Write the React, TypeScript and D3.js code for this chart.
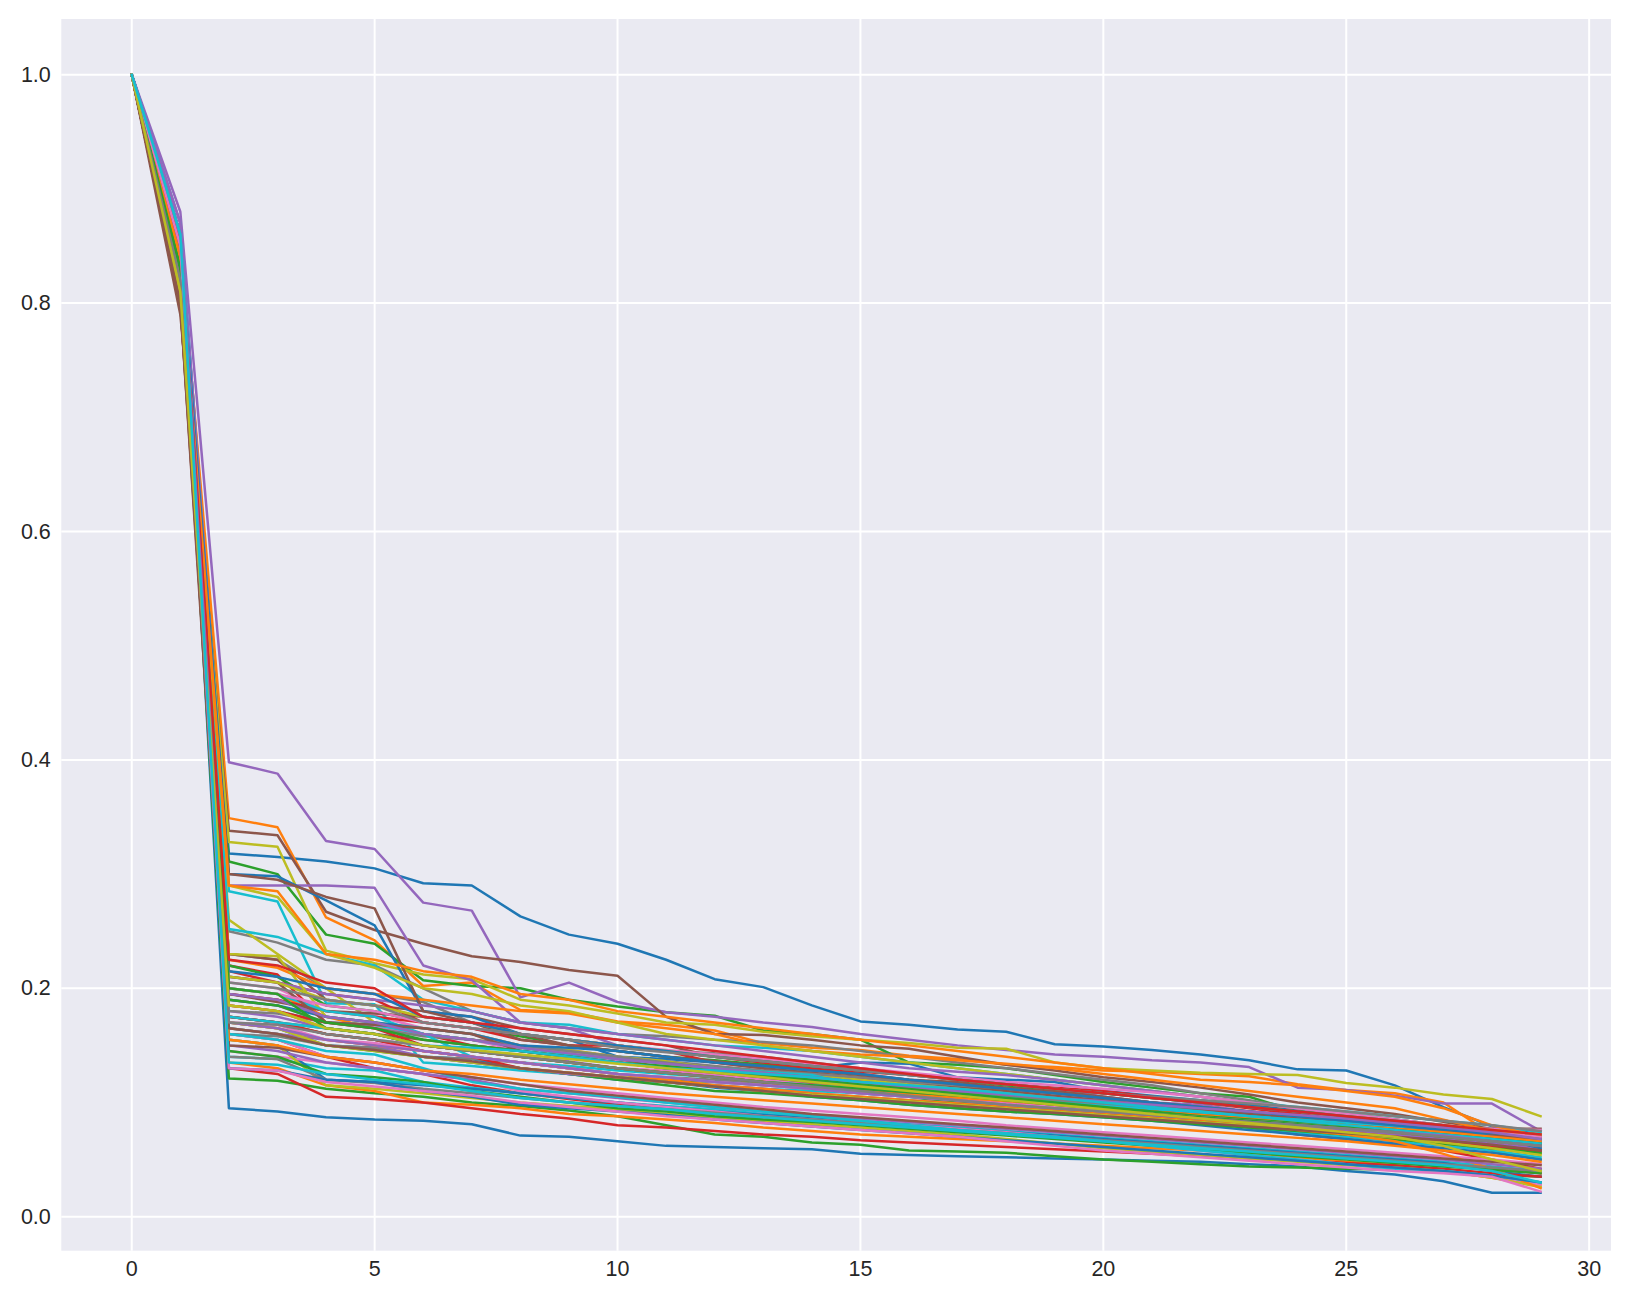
import * as d3 from 'd3';
import { useEffect, useRef } from 'react';

// steps along the x axis (0..29)
const steps = d3.range(30);

// one array per run, 30 values each
const runs: number[][] = [
  [1, .86, .318, .315, .311, .305, .292, .290, .263, .247, .239, .225, .208, .201, .185, .171, .168, .164, .162, .151, .149, .146, .142, .137, .129, .128, .115, .096, .079, .072],
  [1, .85, .349, .341, .262, .242, .202, .205, .181, .179, .171, .168, .163, .152, .148, .146, .141, .138, .133, .131, .128, .127, .125, .123, .116, .111, .108, .100, .072, .060],
  [1, .84, .311, .300, .247, .239, .207, .202, .200, .190, .184, .179, .176, .163, .160, .155, .135, .133, .130, .124, .118, .113, .108, .105, .092, .088, .078, .070, .058, .050],
  [1, .83, .220, .212, .170, .168, .160, .150, .145, .140, .138, .130, .128, .120, .116, .112, .110, .105, .100, .097, .092, .088, .085, .078, .072, .068, .063, .058, .050, .042],
  [1, .88, .398, .388, .329, .322, .275, .268, .192, .205, .188, .179, .175, .170, .166, .160, .155, .150, .146, .142, .140, .137, .135, .131, .113, .111, .106, .099, .099, .075],
  [1, .79, .338, .334, .267, .251, .239, .228, .223, .216, .211, .175, .160, .159, .155, .150, .147, .140, .133, .128, .122, .118, .113, .107, .100, .095, .090, .083, .077, .077],
  [1, .85, .205, .200, .180, .176, .165, .160, .150, .146, .140, .136, .130, .127, .124, .120, .115, .111, .108, .105, .100, .097, .094, .090, .087, .083, .080, .077, .077, .076],
  [1, .82, .230, .225, .200, .195, .188, .170, .160, .155, .150, .145, .143, .140, .135, .130, .125, .120, .115, .110, .105, .100, .095, .090, .085, .080, .075, .070, .065, .060],
  [1, .81, .328, .324, .233, .222, .212, .208, .190, .185, .178, .170, .168, .162, .158, .155, .152, .148, .147, .135, .130, .128, .126, .125, .124, .117, .113, .107, .103, .088],
  [1, .87, .285, .276, .187, .186, .135, .132, .128, .125, .122, .118, .115, .112, .110, .108, .105, .100, .098, .095, .090, .086, .083, .078, .074, .070, .066, .062, .058, .052],

  [1, .85, .095, .092, .087, .085, .084, .081, .071, .070, .066, .062, .061, .060, .059, .055, .054, .053, .052, .051, .050, .049, .048, .046, .044, .040, .037, .031, .021, .021],
  [1, .84, .200, .195, .175, .165, .160, .155, .148, .143, .135, .130, .128, .125, .120, .115, .110, .107, .103, .100, .096, .092, .088, .085, .080, .075, .070, .065, .060, .056],
  [1, .83, .121, .119, .112, .108, .105, .100, .097, .093, .088, .080, .072, .070, .065, .063, .058, .057, .056, .053, .050, .048, .046, .044, .043, .042, .041, .039, .037, .035],
  [1, .86, .160, .155, .140, .130, .125, .115, .108, .103, .098, .094, .090, .087, .084, .081, .078, .075, .072, .069, .066, .063, .060, .057, .054, .051, .048, .045, .042, .038],
  [1, .87, .290, .290, .290, .288, .220, .207, .170, .165, .150, .145, .140, .135, .130, .128, .125, .120, .115, .112, .105, .100, .098, .092, .088, .085, .080, .075, .070, .065],
  [1, .80, .230, .225, .190, .185, .180, .175, .165, .160, .155, .150, .140, .138, .130, .125, .120, .118, .113, .110, .105, .100, .095, .090, .086, .082, .078, .074, .070, .066],
  [1, .84, .190, .185, .170, .166, .160, .155, .145, .140, .136, .130, .127, .122, .118, .113, .110, .106, .102, .098, .095, .090, .086, .082, .078, .074, .070, .066, .060, .055],
  [1, .82, .250, .240, .225, .220, .200, .180, .170, .165, .160, .158, .155, .153, .150, .145, .140, .135, .130, .125, .120, .115, .108, .102, .095, .090, .085, .080, .070, .065],
  [1, .81, .260, .230, .200, .170, .160, .155, .150, .145, .140, .135, .130, .127, .124, .120, .116, .112, .108, .104, .100, .096, .092, .088, .084, .080, .075, .070, .062, .055],
  [1, .86, .252, .245, .230, .220, .190, .180, .170, .168, .160, .155, .150, .148, .145, .140, .135, .130, .125, .120, .115, .110, .105, .100, .096, .092, .088, .084, .080, .074],

  [1, .85, .300, .298, .277, .255, .180, .175, .160, .155, .140, .138, .135, .133, .130, .135, .134, .122, .120, .118, .110, .106, .102, .098, .093, .088, .083, .078, .067, .060],
  [1, .84, .225, .218, .200, .195, .190, .185, .180, .178, .170, .165, .160, .150, .145, .142, .140, .137, .134, .130, .125, .120, .115, .110, .105, .100, .095, .085, .075, .065],
  [1, .83, .220, .210, .185, .180, .170, .165, .158, .150, .145, .140, .137, .133, .130, .128, .125, .120, .115, .112, .108, .104, .100, .096, .092, .088, .082, .078, .072, .066],
  [1, .85, .215, .205, .195, .190, .170, .165, .155, .150, .150, .145, .135, .130, .118, .115, .113, .110, .106, .102, .098, .094, .090, .086, .082, .078, .074, .070, .064, .058],
  [1, .86, .180, .175, .165, .160, .150, .145, .140, .136, .130, .127, .124, .120, .118, .115, .112, .108, .104, .100, .096, .092, .088, .084, .080, .076, .072, .068, .063, .058],
  [1, .80, .300, .295, .280, .270, .180, .170, .160, .150, .145, .140, .135, .130, .126, .122, .118, .114, .110, .106, .102, .098, .094, .090, .086, .082, .078, .074, .070, .065],
  [1, .85, .175, .170, .160, .155, .150, .145, .140, .135, .130, .128, .125, .120, .115, .112, .108, .105, .102, .098, .095, .092, .088, .085, .082, .078, .074, .070, .066, .060],
  [1, .82, .195, .190, .175, .170, .160, .155, .150, .145, .140, .136, .132, .128, .125, .122, .118, .115, .112, .108, .104, .100, .096, .092, .088, .084, .080, .076, .072, .068],
  [1, .82, .290, .280, .230, .218, .200, .195, .185, .180, .170, .160, .155, .150, .145, .140, .135, .130, .125, .120, .115, .110, .105, .100, .095, .090, .085, .080, .075, .070],
  [1, .86, .140, .138, .130, .128, .118, .113, .108, .104, .100, .097, .094, .090, .087, .084, .081, .078, .075, .072, .069, .066, .063, .060, .057, .054, .051, .048, .044, .040],

  [1, .84, .170, .165, .150, .148, .140, .138, .130, .125, .120, .118, .113, .110, .105, .102, .098, .095, .092, .090, .087, .084, .080, .076, .072, .068, .064, .060, .056, .050],
  [1, .84, .290, .285, .230, .225, .215, .210, .195, .190, .180, .175, .170, .165, .160, .155, .150, .145, .140, .135, .130, .125, .120, .118, .115, .110, .105, .095, .080, .070],
  [1, .83, .175, .170, .160, .155, .145, .140, .135, .130, .125, .120, .118, .115, .112, .108, .105, .100, .097, .094, .090, .086, .083, .080, .076, .072, .068, .064, .060, .056],
  [1, .85, .195, .190, .180, .175, .170, .165, .160, .155, .150, .145, .140, .135, .130, .127, .124, .120, .116, .113, .110, .105, .100, .095, .090, .085, .080, .075, .070, .063],
  [1, .86, .210, .205, .195, .190, .185, .180, .170, .165, .160, .155, .150, .145, .140, .135, .130, .127, .124, .120, .115, .110, .105, .100, .095, .090, .085, .080, .075, .070],
  [1, .80, .195, .188, .180, .178, .175, .170, .155, .150, .145, .140, .136, .132, .128, .124, .120, .116, .112, .108, .104, .100, .096, .092, .088, .084, .080, .076, .072, .070],
  [1, .85, .160, .155, .140, .135, .128, .122, .116, .112, .108, .104, .100, .096, .093, .090, .087, .084, .080, .077, .074, .071, .068, .065, .062, .059, .056, .053, .050, .046],
  [1, .82, .160, .158, .150, .148, .140, .138, .135, .130, .125, .122, .120, .116, .112, .110, .106, .102, .099, .096, .093, .090, .087, .084, .081, .077, .073, .069, .065, .060],
  [1, .81, .230, .228, .175, .170, .165, .160, .150, .146, .140, .136, .130, .126, .122, .118, .114, .110, .106, .102, .098, .094, .090, .086, .082, .078, .074, .070, .066, .062],
  [1, .86, .185, .180, .170, .168, .160, .155, .148, .142, .138, .134, .130, .127, .124, .114, .111, .108, .105, .102, .099, .096, .093, .090, .087, .084, .080, .076, .072, .068],

  [1, .85, .155, .150, .120, .118, .115, .112, .108, .104, .100, .096, .092, .089, .086, .083, .080, .077, .074, .071, .068, .065, .062, .059, .056, .053, .050, .047, .040, .035],
  [1, .84, .135, .130, .115, .110, .100, .098, .095, .090, .088, .085, .082, .078, .075, .072, .070, .068, .066, .064, .062, .060, .058, .055, .052, .048, .045, .040, .034, .028],
  [1, .83, .165, .160, .150, .145, .140, .135, .130, .125, .120, .115, .110, .108, .105, .102, .098, .095, .092, .090, .087, .084, .081, .078, .075, .072, .068, .064, .060, .058],
  [1, .86, .130, .125, .105, .103, .100, .095, .090, .086, .080, .078, .075, .072, .070, .067, .065, .063, .061, .059, .057, .055, .053, .051, .049, .047, .045, .042, .038, .035],
  [1, .87, .165, .160, .155, .150, .140, .135, .130, .125, .122, .118, .115, .112, .108, .105, .102, .099, .096, .093, .090, .087, .084, .080, .077, .074, .071, .068, .064, .060],
  [1, .80, .175, .170, .165, .160, .155, .150, .145, .140, .135, .130, .127, .123, .120, .117, .113, .110, .107, .104, .100, .097, .094, .090, .086, .082, .078, .074, .070, .066],
  [1, .85, .145, .140, .135, .130, .125, .120, .110, .105, .100, .096, .092, .088, .085, .082, .080, .077, .074, .070, .066, .062, .058, .054, .050, .046, .042, .040, .036, .028],
  [1, .82, .180, .178, .170, .165, .158, .155, .150, .145, .140, .135, .130, .126, .122, .118, .114, .110, .106, .102, .098, .094, .090, .086, .082, .078, .074, .070, .066, .062],
  [1, .81, .155, .150, .115, .112, .108, .104, .100, .097, .094, .090, .087, .084, .081, .078, .075, .072, .068, .064, .060, .057, .054, .051, .048, .045, .043, .040, .034, .026],
  [1, .86, .200, .195, .180, .175, .160, .140, .135, .132, .128, .125, .122, .118, .115, .112, .110, .107, .104, .100, .097, .094, .091, .088, .085, .082, .078, .074, .070, .066],

  [1, .85, .190, .185, .175, .170, .165, .160, .150, .148, .145, .140, .135, .132, .128, .125, .120, .116, .112, .108, .104, .100, .096, .092, .088, .084, .080, .076, .072, .066],
  [1, .84, .170, .165, .155, .150, .145, .140, .135, .130, .125, .120, .115, .112, .108, .105, .102, .099, .096, .093, .090, .087, .084, .080, .076, .072, .066, .055, .042, .025],
  [1, .83, .145, .140, .125, .122, .118, .110, .105, .100, .095, .092, .088, .085, .083, .080, .077, .074, .071, .068, .065, .062, .059, .056, .053, .050, .047, .044, .041, .038],
  [1, .85, .185, .180, .170, .165, .150, .145, .140, .135, .130, .126, .122, .118, .114, .110, .107, .104, .100, .097, .094, .091, .088, .085, .082, .078, .074, .070, .066, .062],
  [1, .86, .150, .145, .135, .130, .125, .120, .112, .108, .104, .100, .096, .092, .089, .086, .083, .080, .077, .074, .071, .068, .065, .062, .059, .056, .053, .050, .046, .042],
  [1, .80, .210, .205, .170, .168, .165, .160, .145, .140, .135, .130, .126, .122, .118, .114, .110, .106, .102, .098, .095, .092, .089, .086, .083, .080, .077, .074, .071, .068],
  [1, .85, .200, .195, .185, .180, .170, .165, .160, .155, .150, .146, .142, .138, .134, .130, .126, .122, .118, .115, .112, .109, .105, .100, .095, .090, .085, .080, .075, .070],
  [1, .82, .140, .138, .120, .117, .112, .108, .104, .100, .097, .094, .091, .088, .085, .082, .079, .076, .073, .070, .067, .064, .061, .058, .055, .052, .049, .046, .043, .040],
  [1, .81, .210, .205, .190, .185, .175, .170, .160, .155, .150, .145, .140, .136, .132, .128, .124, .120, .116, .112, .108, .104, .100, .096, .092, .088, .084, .080, .076, .072],
  [1, .86, .160, .155, .145, .142, .130, .118, .112, .108, .105, .100, .096, .092, .088, .084, .080, .076, .073, .070, .066, .062, .058, .054, .050, .046, .042, .040, .036, .030],

  [1, .85, .215, .210, .200, .195, .175, .170, .160, .155, .150, .145, .140, .136, .132, .128, .124, .120, .116, .112, .108, .104, .100, .096, .092, .088, .084, .080, .070, .060],
  [1, .84, .185, .180, .165, .160, .150, .145, .140, .135, .130, .126, .122, .118, .114, .110, .107, .104, .101, .098, .095, .092, .089, .086, .083, .080, .077, .074, .070, .066],
  [1, .83, .190, .185, .170, .165, .155, .150, .145, .140, .135, .132, .128, .124, .120, .116, .112, .108, .104, .100, .096, .092, .088, .085, .082, .079, .076, .072, .068, .064],
  [1, .85, .175, .170, .160, .155, .145, .140, .130, .126, .122, .118, .114, .110, .107, .104, .101, .098, .095, .092, .089, .086, .083, .080, .077, .074, .070, .066, .062, .058],
  [1, .86, .195, .190, .175, .170, .160, .155, .148, .143, .138, .134, .130, .126, .122, .118, .114, .110, .107, .104, .101, .098, .095, .092, .089, .086, .082, .078, .074, .068],
  [1, .80, .150, .148, .140, .135, .128, .122, .116, .110, .106, .102, .098, .094, .090, .087, .084, .081, .078, .075, .072, .069, .066, .063, .060, .057, .054, .051, .048, .045],
  [1, .85, .170, .168, .155, .152, .145, .140, .135, .130, .125, .122, .118, .115, .112, .108, .105, .102, .099, .096, .093, .090, .087, .084, .081, .078, .074, .070, .066, .062],
  [1, .82, .205, .200, .190, .185, .170, .165, .160, .155, .148, .144, .140, .136, .132, .128, .124, .120, .116, .112, .108, .105, .102, .099, .096, .092, .088, .084, .080, .075],
  [1, .81, .170, .165, .150, .145, .140, .135, .130, .126, .122, .118, .114, .110, .107, .104, .101, .098, .095, .092, .089, .086, .083, .080, .077, .073, .069, .065, .060, .054],
  [1, .86, .175, .170, .165, .160, .150, .148, .145, .140, .135, .130, .128, .125, .122, .118, .115, .112, .108, .104, .100, .096, .092, .088, .084, .080, .076, .072, .068, .064],

  [1, .85, .130, .128, .120, .118, .110, .105, .098, .095, .092, .089, .085, .082, .079, .076, .073, .070, .067, .064, .061, .058, .055, .052, .049, .046, .043, .040, .036, .030],
  [1, .84, .155, .150, .140, .135, .128, .125, .120, .116, .112, .108, .105, .102, .099, .096, .093, .090, .087, .084, .081, .078, .075, .072, .069, .066, .062, .058, .054, .048],
  [1, .83, .200, .195, .165, .160, .150, .145, .140, .135, .130, .126, .122, .118, .115, .112, .109, .106, .102, .098, .094, .090, .087, .084, .081, .078, .074, .070, .066, .062],
  [1, .85, .225, .220, .205, .200, .175, .170, .165, .160, .155, .150, .145, .140, .135, .130, .125, .120, .116, .112, .108, .104, .100, .096, .092, .088, .084, .080, .076, .072],
  [1, .86, .170, .165, .155, .150, .145, .140, .135, .130, .125, .122, .118, .115, .112, .108, .105, .102, .098, .095, .092, .089, .086, .083, .080, .077, .074, .071, .066, .062],
  [1, .80, .165, .160, .150, .146, .140, .136, .130, .126, .122, .118, .114, .110, .106, .103, .100, .097, .094, .091, .088, .085, .082, .079, .076, .073, .070, .067, .063, .058],
  [1, .85, .130, .128, .118, .114, .110, .106, .100, .096, .092, .088, .085, .082, .079, .076, .073, .070, .066, .062, .058, .055, .052, .049, .046, .043, .040, .038, .035, .022],
  [1, .82, .170, .168, .160, .155, .150, .145, .140, .135, .130, .126, .122, .118, .114, .110, .106, .102, .098, .095, .092, .089, .086, .083, .080, .077, .074, .070, .066, .062],
  [1, .81, .185, .180, .165, .160, .150, .146, .142, .138, .134, .130, .126, .122, .118, .114, .110, .106, .102, .098, .094, .090, .086, .082, .078, .074, .070, .062, .050, .040],
  [1, .86, .135, .133, .125, .120, .116, .110, .104, .100, .097, .094, .090, .087, .084, .081, .078, .075, .072, .069, .066, .063, .060, .057, .054, .051, .048, .045, .040, .030],
];

const xTicks = [0, 5, 10, 15, 20, 25, 30];
const yTicks = [0, 0.2, 0.4, 0.6, 0.8, 1.0];

// matplotlib tab10 cycle
const palette = ['#1f77b4', '#ff7f0e', '#2ca02c', '#d62728', '#9467bd', '#8c564b', '#e377c2', '#7f7f7f', '#bcbd22', '#17becf'];

export default function App() {
  const svgRef = useRef<SVGSVGElement | null>(null);

  useEffect(() => {
    if (!svgRef.current) return;
    const width = 1630;
    const height = 1302;
    const left = 61.3, right = 1611, top = 19, bottom = 1250.7;

    const x = d3.scaleLinear().domain([-1.45, 30.45]).range([left, right]);
    const y = d3.scaleLinear().domain([-0.0298, 1.0488]).range([bottom, top]);

    const svg = d3.select(svgRef.current);
    svg.selectAll('*').remove();
    svg.attr('width', width).attr('height', height)
      .attr('font-family', '"Liberation Sans", Arial, sans-serif');

    svg.append('rect').attr('width', width).attr('height', height).attr('fill', '#fff');

    // axes background
    svg.append('rect')
      .attr('x', left).attr('y', top)
      .attr('width', right - left).attr('height', bottom - top)
      .attr('fill', '#eaeaf2');

    // grid
    const grid = svg.append('g').attr('stroke', '#fff').attr('stroke-width', 2);
    grid.selectAll('line.v').data(xTicks).join('line')
      .attr('class', 'v')
      .attr('x1', d => x(d)).attr('x2', d => x(d))
      .attr('y1', top).attr('y2', bottom);
    grid.selectAll('line.h').data(yTicks).join('line')
      .attr('class', 'h')
      .attr('x1', left).attr('x2', right)
      .attr('y1', d => y(d)).attr('y2', d => y(d));

    // runs
    const line = d3.line<number>().x((_, i) => x(steps[i])).y(d => y(d));
    svg.append('g')
      .attr('fill', 'none')
      .attr('stroke-width', 2.5)
      .attr('stroke-linejoin', 'round')
      .attr('stroke-linecap', 'square')
      .selectAll('path')
      .data(runs)
      .join('path')
      .attr('stroke', (_, i) => palette[i % palette.length])
      .attr('d', d => line(d));

    // tick labels
    svg.append('g')
      .attr('fill', '#262626').attr('font-size', 21.5).attr('text-anchor', 'middle')
      .selectAll('text').data(xTicks).join('text')
      .attr('x', d => x(d)).attr('y', bottom + 20)
      .attr('dominant-baseline', 'middle')
      .text(d => d3.format('d')(d));

    svg.append('g')
      .attr('fill', '#262626').attr('font-size', 21.5).attr('text-anchor', 'end')
      .selectAll('text').data(yTicks).join('text')
      .attr('x', left - 10.5).attr('y', d => y(d) + 1.5)
      .attr('dominant-baseline', 'middle')
      .text(d => d3.format('.1f')(d));
  }, []);

  return (
    <div style={{ position: 'absolute', left: 0, top: 0 }}>
      <svg ref={svgRef} style={{ display: 'block' }} />
    </div>
  );
}
